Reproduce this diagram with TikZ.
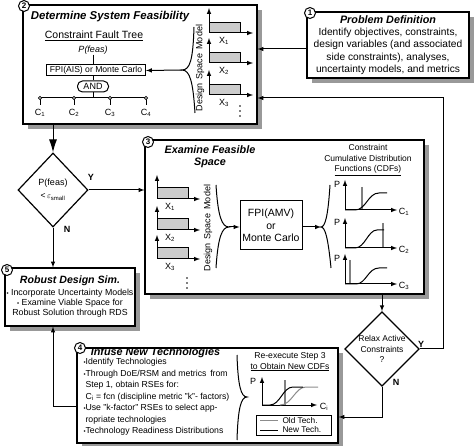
\documentclass[tikz,border=0pt]{standalone}
\usepackage{fontspec}
\setmainfont{Liberation Sans}
\usetikzlibrary{shapes.geometric, shadows, arrows.meta}

\tikzset{
  stepbox/.style={draw, line width=1.2pt, fill=white, inner sep=0pt,
    drop shadow={shadow xshift=5pt, shadow yshift=-5pt, fill=black!40, opacity=1}},
  stepnum/.style={circle, draw, line width=1pt, fill=white, inner sep=0pt,
    minimum size=11pt, font=\fontsize{8}{8}\selectfont\bfseries},
  decide/.style={diamond, draw, line width=1.2pt, fill=white, inner sep=0pt, align=center,
    font=\fontsize{9}{11}\selectfont},
  ttl/.style={font=\fontsize{10.8}{12}\selectfont\bfseries\itshape},
  txt/.style={font=\fontsize{9}{11}\selectfont, inner sep=0pt},
  histbar/.style={draw, fill=black!20, line width=1pt},
  gbar/.style={draw=black!50, line width=2.5pt},
  yn/.style={font=\fontsize{9}{9}\selectfont\bfseries},
}
\newcommand{\bul}{{\fontsize{6}{6}\selectfont\textbullet}}

\begin{document}
\begin{tikzpicture}[x=1pt, y=-1pt, >=latex, line width=1pt]
    \useasboundingbox (0,0) rectangle (474,446);

    % the five steps
    \node[stepbox, minimum width=162, minimum height=66, align=center,
      font=\fontsize{10.2}{12.3}\selectfont] (def) at (388,45)
      {{\fontsize{10.8}{12}\selectfont\bfseries\itshape Problem Definition}\\Identify objectives, constraints,\\
       design variables (and associated\\side constraints), analyses,\\
       uncertainty models, and metrics};
    \node[stepbox, minimum width=234, minimum height=119] (feas) at (140,64.5) {};
    \node[stepbox, minimum width=279, minimum height=154] (examine) at (284.5,217) {};
    \node[stepbox, minimum width=261, minimum height=95] (infuse) at (207.5,395.5) {};
    \node[stepbox, minimum width=130, minimum height=58, align=center,
      font=\fontsize{8.8}{10}\selectfont] (robust) at (70,297)
      {{\fontsize{10.6}{11}\selectfont\bfseries\itshape Robust Design Sim.}\\[2pt]
       \bul\ Incorporate Uncertainty Models\\\bul\ Examine Viable Space for\\
       Robust Solution through RDS};

    \node[stepnum] (num1) at (310,13) {1};
    \node[stepnum] (num2) at (24,6) {2};
    \node[stepnum] (num3) at (148,142) {3};
    \node[stepnum] (num4) at (80,348) {4};
    \node[stepnum] (num5) at (7,270) {5};

    % decisions
    \node[decide, minimum width=70, minimum height=74] (dfeas) at (53,190)
      {P(feas)\\[2pt]{\fontsize{8.5}{9}\selectfont<\,$\varepsilon_{\mathrm{small}}$}};
    \node[decide, minimum width=67, minimum height=68, font=\fontsize{8.5}{10.5}\selectfont]
      (drelax) at (382,349) {Relax Active\\Constraints\\?};

    % step 2
    \node[ttl, anchor=west, font=\fontsize{11.4}{12}\selectfont\bfseries\itshape] (ttl2) at (27,17)
      {Determine System Feasibility};
    \node[txt, font=\fontsize{10.5}{11}\selectfont] (tree) at (94,36) {\underline{Constraint Fault Tree}};
    \node[txt] (pfeas) at (93,50) {\textit{P(feas)}};
    \node[txt, draw, line width=1pt, minimum width=99, minimum height=11,
      font=\fontsize{8.6}{11}\selectfont] (fpiais) at (96,70.5) {FPI(AIS) or Monte Carlo};
    \node[txt, draw, line width=1pt, rounded corners=5pt, minimum width=31, minimum height=11]
      (andgate) at (93,86.5) {AND};
    \draw (pfeas) -- (pfeas |- fpiais.north);
    \draw (fpiais.south -| andgate) -- (andgate.north);
    \draw (andgate.south) -- (93,98);
    \draw (40,98) -- (146,98);
    \foreach \x/\i in {40/1, 74/2, 110/3, 146/4}{
        \draw (\x,98) -- (\x,105);
        \draw[fill=white, line width=0.8pt] (\x,98) circle (1.6);
        \node[txt] (con\i) at (\x,113) {C\textsubscript{\i}};
    }
    \coordinate (tip2) at (182,70);
    \draw (194,27) .. controls (193,60) and (190,70) .. (tip2)
          .. controls (190,70) and (193,82) .. (195,113);
    \draw[->] (tip2) -- (fpiais.east);
    \node[txt] [rotate=90] (dsm2) at (200,68) {Design\, Space\, Model};
    \foreach \yb/\i in {33/1, 63/2, 95/3}{
        \draw[histbar] (209,\yb-10) rectangle (240,\yb);
        \draw[->] (209,\yb) -- (209,\yb-25);
        \draw[->] (240,\yb) -- (253,\yb);
        \node[txt] (xa\i) at (224,\yb+8) {X\textsubscript{\i}};
    }
    \foreach \yd in {106,111,116}
        \fill (240,\yd) circle (0.8);

    % step 3
    \node[ttl, align=center] (ttl3) at (210,157) {Examine Feasible\\Space};
    \foreach \yb/\i in {199/1, 230/2, 259/3}{
        \draw[histbar] (157,\yb-11) rectangle (188,\yb);
        \draw[->] (157,\yb) -- (157,\yb-24);
        \draw[->] (188,\yb) -- (200,\yb);
        \node[txt] (xb\i) at (170,\yb+8) {X\textsubscript{\i}};
    }
    \foreach \yd in {278,283,288}
        \fill (187,\yd) circle (0.8);
    \node[txt] [rotate=90] (dsm3) at (208,228) {Design\, Space\, Model};
    \coordinate (tip3a) at (229,227);
    \coordinate (tip3b) at (321,227);
    \draw (216,185) .. controls (218,217) and (222,227) .. (tip3a)
          .. controls (222,227) and (218,237) .. (216,268);
    \draw (330,185) .. controls (328,217) and (325,227) .. (tip3b)
          .. controls (325,227) and (328,237) .. (331,268);
    \node[txt, draw, line width=1pt, minimum width=62, minimum height=49, align=center,
      font=\fontsize{10.5}{12.5}\selectfont] (fpiamv) at (271,225.5) {FPI(AMV)\\or\\Monte Carlo};
    \draw[->] (tip3a) -- (fpiamv.west |- tip3a);
    \draw[->] (fpiamv.east |- tip3b) -- (tip3b);
    \node[txt, align=center, font=\fontsize{8.5}{10.5}\selectfont] (cdfs) at (368,160)
      {Constraint\\Cumulative Distribution\\\underline{Functions (CDFs)}};
    % constraint CDFs
    \draw[gbar] (362,187) -- (362,210);
    \draw[gbar] (383,223) -- (383,248);
    \draw[gbar] (350,260) -- (350,284);
    \foreach \yb/\i in {210/1, 248/2, 284/3}{
        \draw[->] (345,\yb) -- (345,\yb-30);
        \draw[->] (345,\yb) -- (397,\yb);
        \node[txt] (pc\i) at (337,\yb-26) {P};
        \node[txt] (cc\i) at (404,\yb+2) {C\textsubscript{\i}};
    }
    \draw (345,210) -- (355,210) .. controls (366,210) and (368,193) .. (379,193) -- (387,193);
    \draw (345,248) -- (355,248) .. controls (365,248) and (368,230) .. (377,230) -- (384,230);
    \draw (345,284) -- (356,284) .. controls (366,284) and (368,268) .. (379,268) -- (387,268);

    % step 4
    \node[ttl, anchor=west] (ttl4) at (87,353) {Infuse New Technologies};
    \node[txt, anchor=north west, align=left, font=\fontsize{8.7}{11.5}\selectfont] (tech) at (83,358)
      {\bul Identify Technologies\\
       \bul Through DoE/RSM and metrics\, from\\
       \phantom{\bul}Step 1, obtain RSEs for:\\
       \phantom{\bul}C\textsubscript{i} = fcn (discipline metric "k"- factors)\\
       \bul Use "k-factor" RSEs to select app-\\
       \phantom{\bul}ropriate technologies\\
       \bul Technology Readiness Distributions};
    \draw (237,355) .. controls (238,386) and (241,397) .. (247,397)
          .. controls (241,397) and (238,408) .. (237,440);
    \node[txt, align=center, font=\fontsize{8.6}{10.5}\selectfont] (rexec) at (290,362)
      {Re-execute Step 3\\\underline{to Obtain New CDFs}};
    \draw[gbar] (285,380) -- (285,405);
    \draw[->] (262,405) -- (262,377);
    \draw[->] (262,405) -- (317,405);
    \node[txt] (pnew) at (253,381) {P};
    \node[txt] (cnew) at (324,407) {C\textsubscript{i}};
    \draw[black!45] (280,405) .. controls (292,405) and (295,387) .. (306,387) -- (318,387);
    \draw (262,405) -- (270,405) .. controls (280,405) and (283,387) .. (293,387) -- (303,387);
    \node[draw, line width=1pt, minimum width=75, minimum height=20] (legend) at (293.5,425) {};
    \draw[black!45] (260,420.5) -- (278,420.5);
    \draw (260,430) -- (278,430);
    \node[txt, anchor=west, font=\fontsize{8.3}{9}\selectfont] (oldt) at (282,420.5) {Old Tech.};
    \node[txt, anchor=west, font=\fontsize{8.3}{9}\selectfont] (newt) at (282,430) {New Tech.};

    % connectors
    \draw[->] (def.west |- 0,49) -- (feas.east |- 0,49);
    \coordinate (ybend) at (443,98);
    \draw[->] (drelax.east) -| (ybend) -- (feas.east |- ybend);
    \draw[-{Latex[length=13pt, width=8pt]}] (feas.south -| dfeas.north) -- (dfeas.north);
    \draw[->] (dfeas.east) -- (dfeas.east -| examine.west);
    \draw[->] (dfeas.south) -- (dfeas.south |- robust.north);
    \draw[->] (drelax.north |- examine.south) -- (drelax.north);
    \draw[->] (drelax.south) |- (infuse.east |- 0,417);
    \draw[->] (infuse.west |- 0,406) -| (dfeas.south |- robust.south);
    \node[yn] (yes1) at (91,177) {Y};
    \node[yn] (no1) at (67,229) {N};
    \node[yn] (yes2) at (421,344) {Y};
    \node[yn] (no2) at (396,382) {N};
\end{tikzpicture}
\end{document}
